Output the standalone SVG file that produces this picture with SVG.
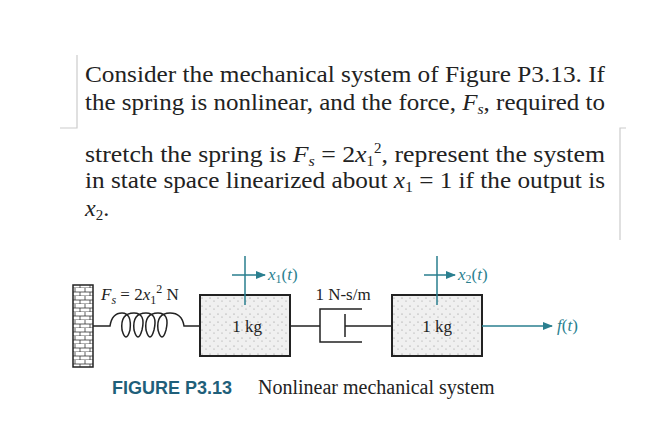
<svg xmlns="http://www.w3.org/2000/svg" width="654" height="448" viewBox="0 0 654 448">
<defs>
<style>
.t{font-family:"Liberation Serif",serif;font-size:24px;fill:#222}
.l{font-family:"Liberation Serif",serif;font-size:17px;fill:#222}
.c{font-family:"Liberation Serif",serif;font-size:17px;fill:#2a7f8f}
.k{stroke:#222;stroke-width:1.5;fill:none}
.b{stroke:#2a7f8f;stroke-width:1.5;fill:none}
.m{stroke:#222;stroke-width:2}
</style>
<pattern id="dots" width="8" height="8" patternUnits="userSpaceOnUse"><rect width="8" height="8" fill="#f0f0f0"/><circle cx="2" cy="2" r="0.6" fill="#888"/><circle cx="6" cy="5" r="0.6" fill="#999"/></pattern>
<pattern id="brick" width="10" height="8" patternUnits="userSpaceOnUse"><rect width="10" height="8" fill="#fff"/><path d="M0 4H10M0 8H10M5 0V4M0 4V8M10 4V8" stroke="#333" stroke-width="0.8"/></pattern>
<marker id="ar" markerWidth="10" markerHeight="8" refX="9" refY="4" orient="auto" markerUnits="userSpaceOnUse"><path d="M0 0L10 4L0 8z" fill="#2a7f8f"/></marker>
</defs>
<rect width="654" height="448" fill="#fff"/>
<g stroke="#ccc" stroke-width="1.2" fill="none"><path d="M77 55V128H60"/><path d="M626 128H620V240"/></g>
<g id="text">
<text class="t" x="85" y="82" textLength="520" lengthAdjust="spacingAndGlyphs">Consider the mechanical system of Figure P3.13. If</text>
<text class="t" x="85" y="110" textLength="520" lengthAdjust="spacingAndGlyphs">the spring is nonlinear, and the force, <tspan font-style="italic">F</tspan><tspan font-style="italic" font-size="15" dy="4">s</tspan><tspan dy="-4">, required to</tspan></text>
<text class="t" x="85" y="162" textLength="520" lengthAdjust="spacingAndGlyphs">stretch the spring is <tspan font-style="italic">F</tspan><tspan font-style="italic" font-size="15" dy="4">s</tspan><tspan dy="-4"> = 2</tspan><tspan font-style="italic">x</tspan><tspan font-size="14" dy="4">1</tspan><tspan font-size="14" dy="-13">2</tspan><tspan dy="9">, represent the system</tspan></text>
<text class="t" x="85" y="188" textLength="520" lengthAdjust="spacingAndGlyphs">in state space linearized about <tspan font-style="italic">x</tspan><tspan font-size="15" dy="4">1</tspan><tspan dy="-4"> = 1 if the output is</tspan></text>
<text class="t" x="85" y="216"><tspan font-style="italic">x</tspan><tspan font-size="15" dy="4">2</tspan><tspan dy="-4">.</tspan></text>
</g>
<g id="wall"><rect x="73" y="285" width="20" height="82" fill="url(#brick)" stroke="#222" stroke-width="1.5"/></g>
<g id="spring"><path class="k" d="M93 326H110Q112 313 122 313Q132 313 130 330Q126 344 122 330Q120 313 134 313Q146 313 142 330Q138 344 134 330Q132 313 146 313Q158 313 154 330Q150 344 146 330Q144 313 158 313Q170 313 166 330Q162 344 158 330Q156 313 170 313Q182 313 184 326H200"/>
<text class="l" x="101" y="300"><tspan font-style="italic">F</tspan><tspan font-style="italic" font-size="12" dy="4">s</tspan><tspan dy="-4"> = 2</tspan><tspan font-style="italic">x</tspan><tspan font-size="12" dy="4">1</tspan><tspan font-size="12" dy="-11">2</tspan><tspan dy="7"> N</tspan></text></g>
<g id="mass1"><rect class="m" x="200" y="295" width="90" height="61" fill="url(#dots)"/><text class="l" x="247" y="332" text-anchor="middle">1 kg</text></g>
<g id="damper"><path class="k" d="M290 326H320M362 309H320V342H362M345 314V337M345 326H392"/><text class="l" x="343" y="300" text-anchor="middle">1 N-s/m</text></g>
<g id="mass2"><rect class="m" x="392" y="295" width="90" height="61" fill="url(#dots)"/><text class="l" x="437" y="332" text-anchor="middle">1 kg</text></g>
<g id="connectors">
<path class="b" d="M245 256V305M232 275H265" marker-end="url(#ar)"/>
<path class="b" d="M437 256V305M424 275H455" marker-end="url(#ar)"/>
<path class="b" d="M482 326H552" marker-end="url(#ar)"/>
</g>
<g id="labels">
<text class="c" x="268" y="280" font-style="italic">x<tspan font-size="12" dy="3" font-style="normal">1</tspan><tspan dy="-3" font-style="normal">(</tspan>t<tspan font-style="normal">)</tspan></text>
<text class="c" x="458" y="280" font-style="italic">x<tspan font-size="12" dy="3" font-style="normal">2</tspan><tspan dy="-3" font-style="normal">(</tspan>t<tspan font-style="normal">)</tspan></text>
<text class="c" x="557" y="331" font-style="italic">f<tspan font-style="normal">(</tspan>t<tspan font-style="normal">)</tspan></text>
</g>
<g id="caption"><text x="112" y="394" font-family="'Liberation Sans',sans-serif" font-weight="bold" font-size="18" fill="#1f5f7a">FIGURE P3.13</text><text x="258" y="394" font-family="'Liberation Serif',serif" font-size="20" fill="#222">Nonlinear mechanical system</text></g>
</svg>
